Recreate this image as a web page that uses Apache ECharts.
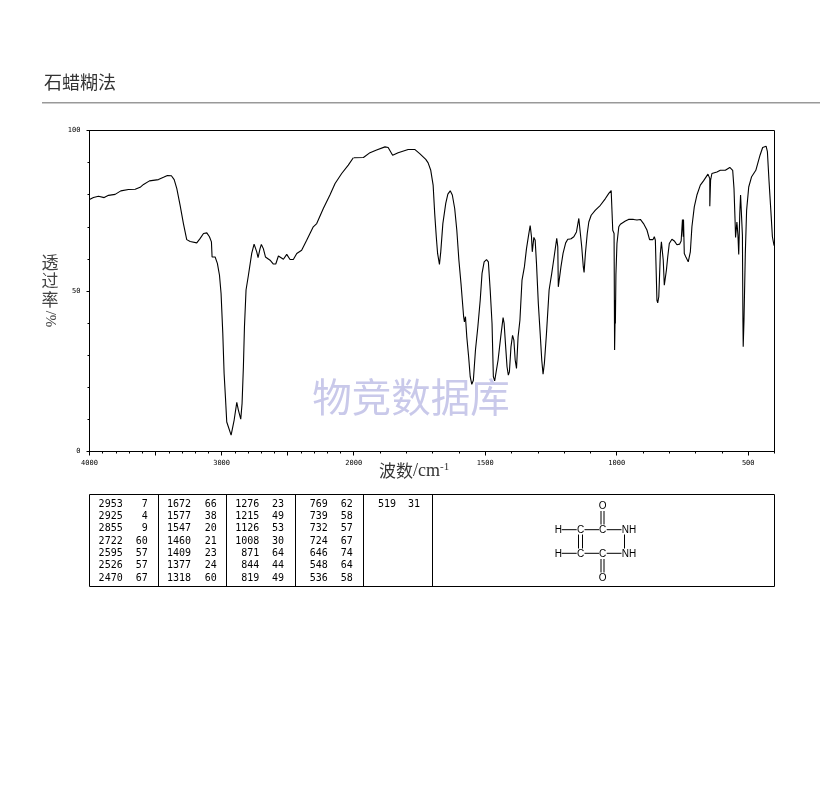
<!DOCTYPE html>
<html>
<head>
<meta charset="utf-8">
<style>html,body{margin:0;padding:0;background:#fff}#c{width:822px;height:794px}</style>
<script src="https://cdn.jsdelivr.net/npm/echarts@6/dist/echarts.min.js"></script>
</head>
<body>
<div id="c"></div>
<script>
const titleText = "石蜡糊法";
const watermark = "物竞数据库";
const xMajorHigh = [4000, 3000];
const xMediumHigh = [3500, 2500];
const xMajorLow = [2000, 1500, 1000, 500];

const wnHigh = [4000,3970,3932,3889,3856,3806,3763,3705,3654,3647,3617,3591,3546,3478,3440,3410,3380,3359,3339,3314,3289,3264,3238,3188,3162,3137,3112,3092,3077,3072,3049,3032,3016,3004,2991,2981,2971,2961,2946,2928,2918,2905,2885,2873,2855,2845,2835,2827,2815,2797,2772,2754,2744,2734,2724,2709,2699,2684,2668,2633,2608,2590,2570,2557,2532,2507,2482,2457,2431,2394,2356,2306,2280,2230,2180,2141,2091,2041,2003,2000];
const tHigh = [78.5,79.1,79.5,79.1,79.8,80.1,81.2,81.6,81.7,82.3,82.3,83.2,84.3,84.7,85.4,86.0,85.9,84.7,81.9,76.7,71.0,66.0,65.4,65.0,66.4,67.9,68.1,66.9,65.3,60.6,60.6,58.6,54.9,49.2,36.8,24.3,17.0,9.2,8.7,5.1,5.6,9.8,15.3,12.9,10.1,15.0,26.4,38.8,50.3,54.9,61.7,64.6,64.8,62.2,60.4,63.2,64.5,63.2,60.6,59.6,58.4,58.4,60.9,61.4,59.9,61.4,59.8,59.8,61.7,62.7,65.8,70.0,71.0,75.7,79.9,83.5,86.6,89.2,91.5,91.5];

const wnMid = [2000,1963,1938,1913,1881,1869,1852,1831,1793,1768,1749,1726,1717,1707,1698,1692,1686,1681,1674,1669,1661,1650,1642,1633,1625,1616,1608,1600,1592,1587,1582,1579,1575,1570,1563,1557,1551,1545,1537,1528,1519,1512,1504,1495,1488,1481,1474,1469,1464,1459,1451,1441,1432,1428,1423,1417,1412,1408,1402,1396,1391,1386,1381,1375,1368,1360,1351,1343,1335,1329,1324,1321,1315,1310,1305,1298,1291,1285,1280,1275,1267,1257,1247,1238,1228,1224,1222,1218,1212,1204,1194,1186,1175];
const tMid = [91.5,91.6,93.1,93.9,94.9,94.7,92.3,93.1,94.1,94.1,92.8,91.0,89.9,87.6,83.0,74.1,66.9,61.7,58.3,62.2,71.0,77.3,80.2,81.2,79.9,75.7,69.0,59.6,52.3,47.1,42.0,40.4,42.0,35.7,29.5,23.3,20.9,22.2,31.6,38.8,47.1,55.5,59.1,59.8,59.1,50.3,39.9,23.3,22.0,22.2,28.5,35.7,41.7,39.9,33.6,26.4,23.8,24.8,32.6,36.2,34.7,28.5,25.9,35.7,40.9,53.4,57.5,63.2,67.4,70.4,66.9,62.2,66.7,65.8,58.6,46.1,36.8,28.5,24.1,27.4,36.8,50.3,55.5,60.6,66.4,63.8,51.3,50.8,57.5,61.7,65.0,66.1,66.2];

const wnLow = [1175,1163,1153,1144,1138,1133,1127,1124,1119,1112,1106,1097,1081,1062,1043,1030,1021,1018,1015,1010,1008,1005,1005,1003,999,992,986,967,955,936,923,910,898,885,875,862,857,853,851,847,844,840,834,830,826,823,819,815,811,806,800,790,781,771,761,755,750,747,746,743,736,728,723,720,714,705,695,682,670,653,646,646,643,638,619,606,587,570,559,554,550,548,543,539,536,534,532,529,525,522,520,519,516,511,506,498,487,471,455,445,432,427,421,414,408,402,400];
const tLow = [66.2,66.9,68.4,72.6,72.9,63.8,57.5,55.8,61.7,67.9,71.5,73.6,75.2,76.7,78.8,80.4,81.3,81.2,68.9,67.9,31.6,47.1,39.9,55.0,64.8,70.0,70.8,71.8,72.3,72.3,72.1,72.3,71.0,69.0,66.0,66.0,66.9,65.8,59.6,47.1,46.3,48.2,61.7,65.3,65.3,59.6,51.8,51.3,56.5,60.6,64.8,66.1,65.6,64.4,64.6,65.6,72.3,66.9,72.3,61.7,60.4,59.1,58.6,62.2,70.0,76.2,79.9,83.0,84.3,86.4,85.0,76.4,84.5,86.6,87.1,87.6,87.6,88.5,87.6,81.9,72.1,66.7,71.5,67.4,61.4,61.6,74.1,79.9,79.3,67.4,40.4,32.6,40.9,61.7,75.2,82.4,85.6,87.6,92.3,94.7,95.1,93.4,84.5,75.2,66.9,64.3,64.0];

const peakWn = [
  [2953,2925,2855,2722,2595,2526,2470],
  [1672,1577,1547,1460,1409,1377,1318],
  [1276,1215,1126,1008,871,844,819],
  [769,739,732,724,646,548,536],
  [519]
];
const peakT = [
  [7,4,9,60,57,57,67],
  [66,38,20,21,23,24,60],
  [23,49,53,30,64,44,49],
  [62,58,57,67,74,64,58],
  [31]
];

const PX = {l:89.5, mid:353.7, r:774.5, t:130.5, b:451.5};
const MONO = '"DejaVu Sans Mono", monospace';
const CJK = '"Noto Sans CJK SC", sans-serif';
const zip = (a,b)=>a.map((v,i)=>[v,b[i]]);

const graphics = [];
const txt = (x,y,text,o={}) => graphics.push({type:'text',x,y,silent:true,rotation:o.rot||0,z:o.z||5,
  style:{text,fill:o.fill||'#000',font:o.font||('10px '+MONO),align:o.align||'left',verticalAlign:'middle',rich:o.rich}});
const ln = (x1,y1,x2,y2,c='#000',w=1) => graphics.push({type:'line',silent:true,z:5,shape:{x1,y1,x2,y2},style:{stroke:c,lineWidth:w}});

// heading
txt(44,82,titleText,{font:'400 18px '+CJK,fill:'#333'});
graphics.push({type:'rect',silent:true,shape:{x:42,y:102,width:778,height:1.4},style:{fill:'#999'}});

// watermark
txt(411,397,watermark,{font:'39.5px '+CJK,fill:'#c9c9ea',align:'center',z:0});

// y title
['透','过','率'].forEach((ch,i)=>txt(50,262.5+i*18.5,ch,{font:'400 17px '+CJK,fill:'#444',align:'center'}));
txt(50,319,'/%',{font:'15px "Liberation Serif", serif',fill:'#444',align:'center',rot:-Math.PI/2});

// x title
txt(379,471,'{a|波数}{b|/cm}{c|-1}',{fill:'#333',rich:{
  a:{font:'400 17px '+CJK,fill:'#333'},
  b:{font:'18px "Liberation Serif", serif',fill:'#333'},
  c:{font:'11px "Liberation Serif", serif',fill:'#333',verticalAlign:'top',lineHeight:14}
}});

// peak table
const T = {l:89.5,r:774.5,t:494.5,b:586.5,cols:[158.5,226.5,295.5,363.5,432.5],wnEnd:[122.7,191,259.3,327.7,396],tEnd:[147.7,216.7,284,352.7,420],y0:504,dy:12.33};
graphics.push({type:'rect',silent:true,shape:{x:T.l,y:T.t,width:T.r-T.l,height:T.b-T.t},style:{fill:'none',stroke:'#000',lineWidth:1}});
T.cols.forEach(x=>ln(x,T.t,x,T.b));
peakWn.forEach((col,c)=>col.forEach((w,r)=>{
  txt(T.wnEnd[c],T.y0+r*T.dy,String(w),{align:'right'});
  txt(T.tEnd[c],T.y0+r*T.dy,String(peakT[c][r]),{align:'right'});
}));

// molecule
const A = {x:[558.3,580.7,602.7,629],y:[505.7,529.7,553.3,577.3]};
const at = (x,y,s)=>txt(x,y+0.8,s,{font:'10px "Liberation Sans", sans-serif',align:'center'});
at(A.x[2],A.y[0],'O'); at(A.x[2],A.y[3],'O');
[A.y[1],A.y[2]].forEach(y=>{
  at(A.x[0],y,'H'); at(A.x[1],y,'C'); at(A.x[2],y,'C'); at(A.x[3],y,'NH');
  ln(561.7,y,576.7,y); ln(584.5,y,599,y); ln(606.7,y,621.5,y);
});
ln(624.5,534.5,624.5,548.5);
ln(578.5,534.5,578.5,548.5); ln(582.5,534.5,582.5,548.5);
ln(601,511,601,524.5); ln(604,511,604,524.5);
ln(601,559,601,572.5); ln(604,559,604,572.5);

const plain = v => String(v);
const labelStyle = {fontFamily:MONO,fontSize:7,color:'#000',margin:8,formatter:plain};
const lineAxis = {lineStyle:{color:'#000',width:1}};
const tickStyle = {lineStyle:{color:'#000',width:1}};
const curve = {color:'#000',width:1.1};

const option = {
  animation:false,
  backgroundColor:'#fff',
  graphic:{elements:graphics},
  grid:[
    {left:PX.l,width:PX.mid-PX.l,top:PX.t,height:PX.b-PX.t},
    {left:PX.mid,width:PX.r-PX.mid,top:PX.t,height:PX.b-PX.t},
    {left:PX.l,width:PX.r-PX.l,top:PX.t,height:PX.b-PX.t,show:true,borderColor:'#000',borderWidth:1,backgroundColor:'transparent'}
  ],
  xAxis:[
    {type:'value',gridIndex:0,inverse:true,min:2000,max:4000,interval:100,position:'bottom',
      axisLine:lineAxis,splitLine:{show:false},axisLabel:{show:false},axisTick:{length:2,...tickStyle}},
    {type:'value',gridIndex:0,inverse:true,min:2000,max:4000,interval:500,position:'bottom',
      axisLine:{show:false},splitLine:{show:false},
      axisLabel:{...labelStyle,customValues:xMajorHigh},axisTick:{length:4,...tickStyle,customValues:xMajorHigh.concat(xMediumHigh)}},
    {type:'value',gridIndex:1,inverse:true,min:400,max:2000,interval:100,position:'bottom',
      axisLine:lineAxis,splitLine:{show:false},axisLabel:{show:false},axisTick:{length:2,...tickStyle}},
    {type:'value',gridIndex:1,inverse:true,min:400,max:2000,interval:100,position:'bottom',
      axisLine:{show:false},splitLine:{show:false},
      axisLabel:{...labelStyle,customValues:xMajorLow},axisTick:{length:4,...tickStyle,customValues:xMajorLow}},
    {type:'value',gridIndex:2,show:false,min:0,max:1}
  ],
  yAxis:[
    {type:'value',gridIndex:0,min:0,max:100,interval:50,axisLine:{show:true,...lineAxis},splitLine:{show:false},
      axisLabel:{...labelStyle,margin:9,showMinLabel:true,showMaxLabel:true},
      axisTick:{show:true,length:3,...tickStyle},minorTick:{show:true,splitNumber:5,length:2,...tickStyle},minorSplitLine:{show:false}},
    {type:'value',gridIndex:1,min:0,max:100,show:false},
    {type:'value',gridIndex:2,min:0,max:1,show:false}
  ],
  series:[
    {type:'line',xAxisIndex:0,yAxisIndex:0,data:zip(wnHigh,tHigh),showSymbol:false,symbol:'none',lineStyle:curve,z:3},
    {type:'line',xAxisIndex:2,yAxisIndex:1,data:zip(wnMid,tMid),showSymbol:false,symbol:'none',lineStyle:curve,z:3},
    {type:'line',xAxisIndex:2,yAxisIndex:1,data:zip(wnLow,tLow),showSymbol:false,symbol:'none',lineStyle:curve,z:3}
  ]
};
const chart = echarts.init(document.getElementById('c'),null,{renderer:'canvas',width:822,height:794});
chart.setOption(option);
</script>
</body>
</html>
